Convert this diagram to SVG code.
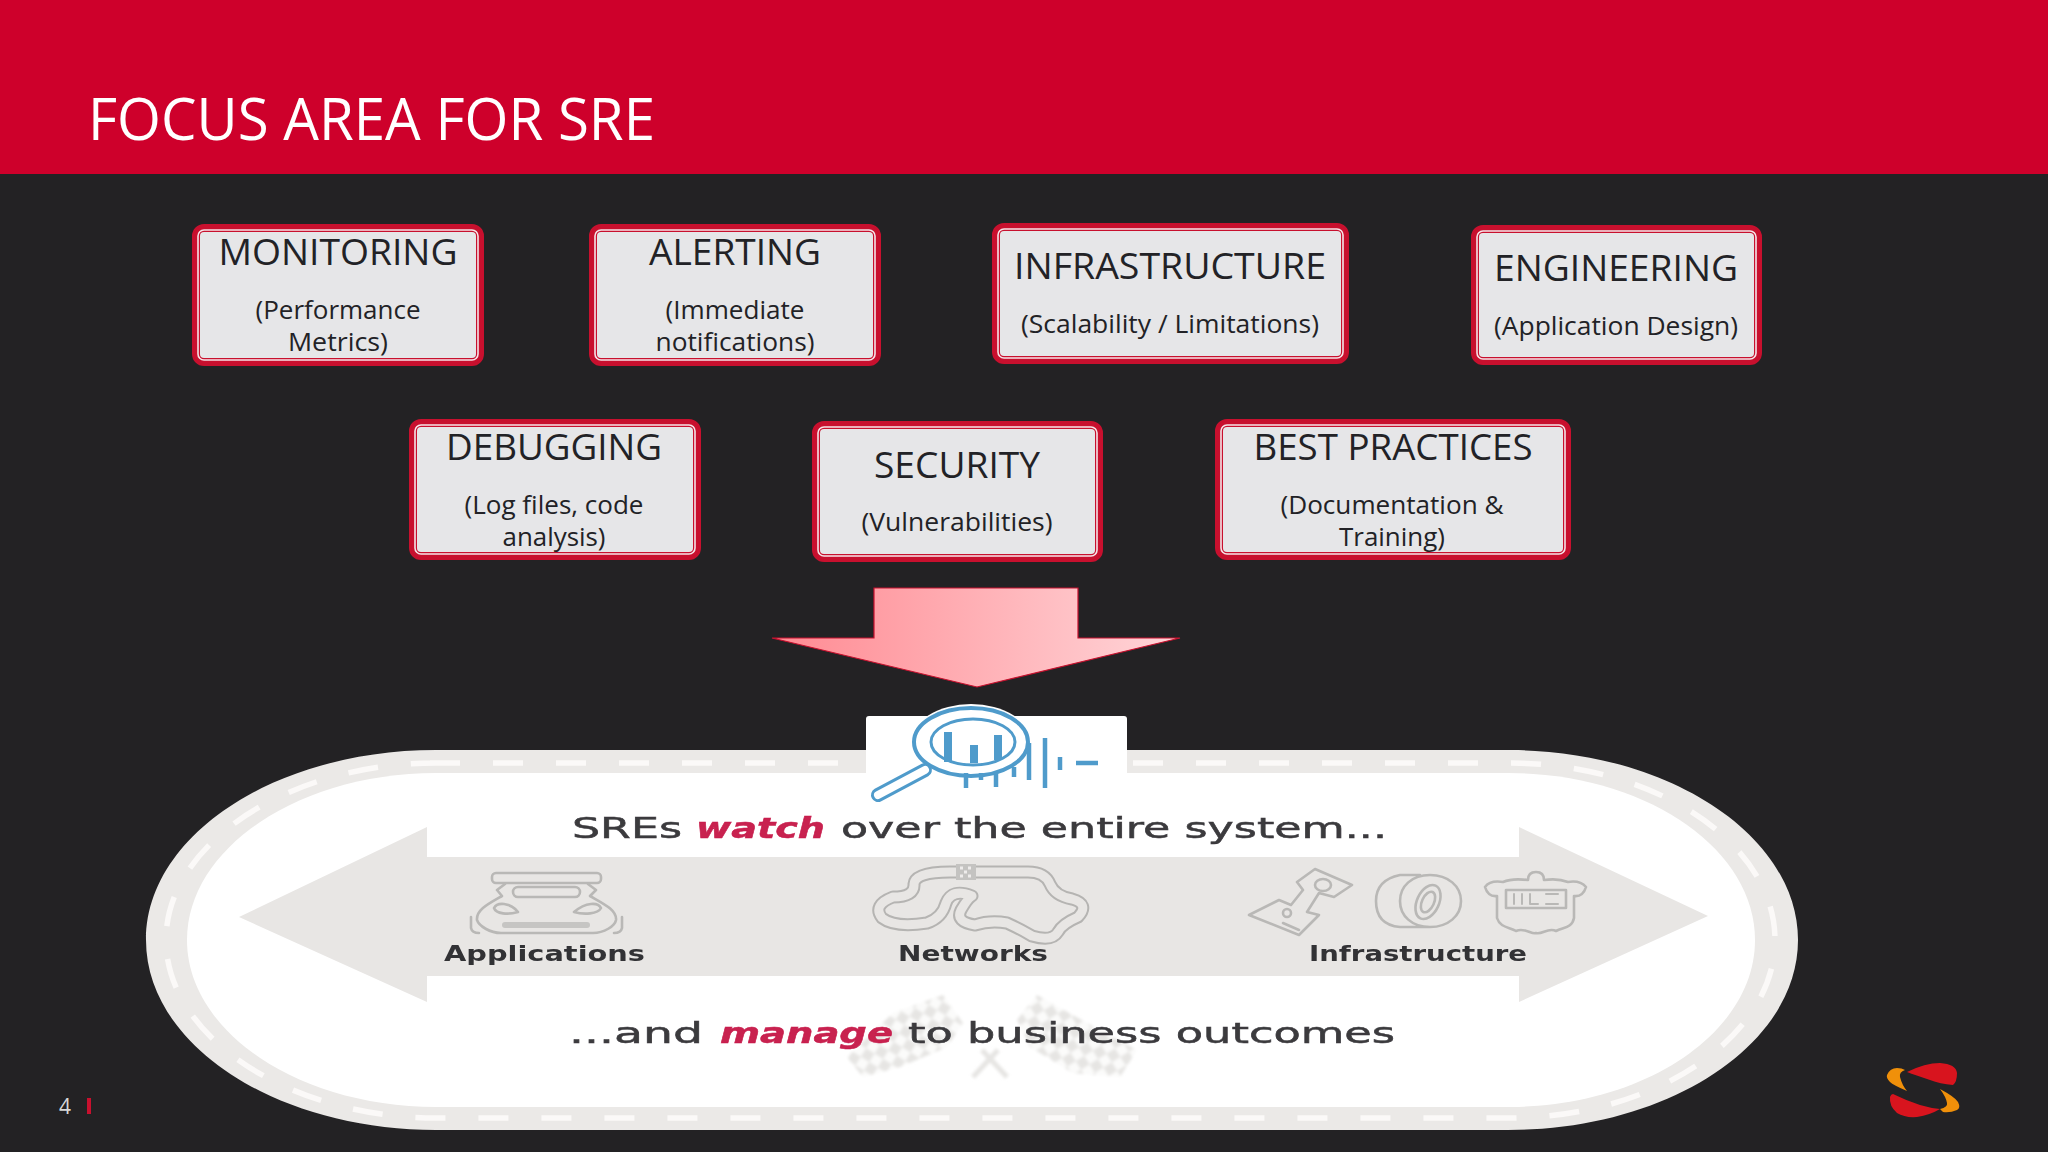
<svg xmlns="http://www.w3.org/2000/svg" width="2048" height="1152" viewBox="0 0 2048 1152">
<style>
.o{fill:#c8102e;stroke:#c8102e;stroke-width:2}.m{fill:#c8102e;stroke:#f6e4e8;stroke-width:1.6}.f{fill:#e6e6e8}
text{font-family:"Open Sans","Noto Sans","Liberation Sans",sans-serif;fill:#222226}
.h{font-size:36px;text-anchor:middle}.s{font-size:26px;text-anchor:middle}
.w{font-family:"DejaVu Sans","Liberation Sans",sans-serif;font-size:28px;fill:#3b3a3e;stroke:#3b3a3e;stroke-width:0.5}
.r{font-weight:bold;font-style:italic;fill:#c8204f;stroke:#c8204f}
.l{font-family:"DejaVu Sans","Liberation Sans",sans-serif;font-size:21px;font-weight:bold;fill:#333336}
.ic{fill:none;stroke:#b9b8b6;stroke-linejoin:round;stroke-linecap:round}
.bl{fill:none;stroke:#4f9bcb}
</style>
<defs>
<linearGradient id="ag" x1="0" x2="1" y1="0" y2="0"><stop offset="0" stop-color="#ff8a92"/><stop offset="1" stop-color="#ffd6d9"/></linearGradient>
<pattern id="chk" width="20" height="20" patternUnits="userSpaceOnUse" patternTransform="rotate(32)"><rect width="20" height="20" fill="#fbfbfa"/><rect width="10" height="10" fill="#e6e5e3"/><rect x="10" y="10" width="10" height="10" fill="#e6e5e3"/></pattern>
<pattern id="chk2" width="20" height="20" patternUnits="userSpaceOnUse" patternTransform="rotate(-32)"><rect width="20" height="20" fill="#fbfbfa"/><rect width="10" height="10" fill="#e6e5e3"/><rect x="10" y="10" width="10" height="10" fill="#e6e5e3"/></pattern>
<filter id="soft" x="-5%" y="-5%" width="110%" height="110%"><feGaussianBlur stdDeviation="0.7"/></filter>
<filter id="soft2" x="-10%" y="-10%" width="120%" height="120%"><feGaussianBlur stdDeviation="1.4"/></filter>
</defs>
<rect width="2048" height="1152" fill="#232224"/>
<rect width="2048" height="174" fill="#ce002b"/>
<text x="88" y="140" font-size="59" textLength="567" lengthAdjust="spacingAndGlyphs" style="fill:#fff">FOCUS AREA FOR SRE</text>

<g id="node-monitoring"><rect class="o" x="193" y="225" width="290" height="140" rx="11"/><rect class="m" x="198" y="230" width="280" height="130" rx="6"/><rect class="f" x="200" y="232" width="276" height="126" rx="4"/>
<text class="h" x="338" y="265" textLength="239" lengthAdjust="spacingAndGlyphs">MONITORING</text>
<text class="s" x="338" y="319" textLength="165" lengthAdjust="spacingAndGlyphs">(Performance</text>
<text class="s" x="338" y="351" textLength="100" lengthAdjust="spacingAndGlyphs">Metrics)</text></g>

<g id="node-alerting"><rect class="o" x="590" y="225" width="290" height="140" rx="11"/><rect class="m" x="595" y="230" width="280" height="130" rx="6"/><rect class="f" x="597" y="232" width="276" height="126" rx="4"/>
<text class="h" x="735" y="265" textLength="172" lengthAdjust="spacingAndGlyphs">ALERTING</text>
<text class="s" x="735" y="319" textLength="139" lengthAdjust="spacingAndGlyphs">(Immediate</text>
<text class="s" x="735" y="351" textLength="159" lengthAdjust="spacingAndGlyphs">notifications)</text></g>

<g id="node-infrastructure"><rect class="o" x="993" y="224" width="355" height="139" rx="11"/><rect class="m" x="998" y="229" width="345" height="129" rx="6"/><rect class="f" x="1000" y="231" width="341" height="125" rx="4"/>
<text class="h" x="1170" y="279" textLength="312" lengthAdjust="spacingAndGlyphs">INFRASTRUCTURE</text>
<text class="s" x="1170" y="333" textLength="298" lengthAdjust="spacingAndGlyphs">(Scalability / Limitations)</text></g>

<g id="node-engineering"><rect class="o" x="1472" y="226" width="289" height="138" rx="11"/><rect class="m" x="1477" y="231" width="279" height="128" rx="6"/><rect class="f" x="1479" y="233" width="275" height="124" rx="4"/>
<text class="h" x="1616" y="281" textLength="244" lengthAdjust="spacingAndGlyphs">ENGINEERING</text>
<text class="s" x="1616" y="335" textLength="244" lengthAdjust="spacingAndGlyphs">(Application Design)</text></g>

<g id="node-debugging"><rect class="o" x="410" y="420" width="290" height="139" rx="11"/><rect class="m" x="415" y="425" width="280" height="129" rx="6"/><rect class="f" x="417" y="427" width="276" height="125" rx="4"/>
<text class="h" x="554" y="460" textLength="216" lengthAdjust="spacingAndGlyphs">DEBUGGING</text>
<text class="s" x="554" y="514" textLength="179" lengthAdjust="spacingAndGlyphs">(Log files, code</text>
<text class="s" x="554" y="546" textLength="103" lengthAdjust="spacingAndGlyphs">analysis)</text></g>

<g id="node-security"><rect class="o" x="813" y="422" width="289" height="139" rx="11"/><rect class="m" x="818" y="427" width="279" height="129" rx="6"/><rect class="f" x="820" y="429" width="275" height="125" rx="4"/>
<text class="h" x="957" y="478" textLength="166" lengthAdjust="spacingAndGlyphs">SECURITY</text>
<text class="s" x="957" y="531" textLength="191" lengthAdjust="spacingAndGlyphs">(Vulnerabilities)</text></g>

<g id="node-best-practices"><rect class="o" x="1216" y="420" width="354" height="139" rx="11"/><rect class="m" x="1221" y="425" width="344" height="129" rx="6"/><rect class="f" x="1223" y="427" width="340" height="125" rx="4"/>
<text class="h" x="1393" y="460" textLength="279" lengthAdjust="spacingAndGlyphs">BEST PRACTICES</text>
<text class="s" x="1392" y="514" textLength="223" lengthAdjust="spacingAndGlyphs">(Documentation &amp;</text>
<text class="s" x="1392" y="546" textLength="106" lengthAdjust="spacingAndGlyphs">Training)</text></g>

<g id="connectors">
<path d="M874 588H1078V638H1180L977 687L772 638H874Z" fill="url(#ag)" stroke="#c8102e" stroke-width="1.2" stroke-linejoin="miter"/>
</g>

<g id="track" filter="url(#soft)">
<rect x="866" y="716" width="261" height="70" rx="3" fill="#fff"/>
<path d="M436 750H866V773H1127V750H1508C1668 750 1798 835 1798 940C1798 1045 1668 1130 1508 1130H436C276 1130 146 1045 146 940C146 835 276 750 436 750Z" fill="#ebe9e7"/>
<path d="M436 773H1508C1645 773 1755 848 1755 940C1755 1032 1645 1107 1508 1107H436C299 1107 187 1032 187 940C187 848 299 773 436 773Z" fill="#fff"/>
<rect x="866" y="740" width="261" height="40" fill="#fff"/>
<path d="M430 763H860M1133 763H1508C1655 763 1775 843 1775 940C1775 1037 1655 1118 1508 1118H436C290 1118 166 1037 166 940C166 843 290 763 436 763" fill="none" stroke="#fbf9f8" stroke-width="5.5" stroke-dasharray="30 33"/>
<path d="M239 917L427 827V857H1519V827L1708 916L1519 1002V976H427V1002Z" fill="#e8e6e4"/>

<g id="magnifier">
<ellipse cx="971" cy="742" rx="60" ry="38" fill="#fff"/>
<ellipse class="bl" cx="971" cy="742" rx="57" ry="34" stroke-width="4"/>
<ellipse class="bl" cx="973" cy="742" rx="42" ry="23" stroke-width="3"/>
<path class="bl" stroke-width="8" d="M948 732V762M974 745V763M998 735V760"/>
<path d="M925 770L878 795" fill="none" stroke="#4f9bcb" stroke-width="14" stroke-linecap="round"/>
<path d="M925 770L878 795" fill="none" stroke="#fff" stroke-width="8" stroke-linecap="round"/>
<path class="bl" stroke-width="4.5" d="M966 773V788M981 773V780M996 773V787M1014 767V777M1029 743V780M1045 738V788M1060 757V770M1076 763H1098"/>
</g>

<g id="flags" filter="url(#soft2)">
<path d="M847 1057L893 1013L943 995L963 1023L947 1047L900 1067L863 1077Z" fill="url(#chk)"/>
<path d="M1017 1020L1037 995L1087 1023L1137 1050L1120 1077L1073 1073L1030 1047Z" fill="url(#chk2)"/>
<path d="M982 1050L1007 1077M998 1050L973 1077" stroke="#e6e5e3" stroke-width="5" fill="none"/>
</g>

<g id="car" class="ic" stroke-width="2.6">
<rect x="492" y="873" width="109" height="10" rx="4"/>
<rect x="513" y="887" width="67" height="10" rx="5"/>
<path d="M505 884L497 890L502 896C488 904 476 910 477 920C479 926 490 933 501 933H593C604 933 615 926 616 920C617 910 604 904 590 896L596 890L588 884"/>
<path d="M494 908C497 902 510 902 518 912C508 915 496 914 494 908ZM601 908C598 902 586 902 574 912C584 915 598 914 601 908Z"/>
<path d="M505 925H587" stroke-width="6" style="stroke:#c6c5c3"/>
<path d="M471 917V928Q472 933 479 933M622 917V928Q621 933 614 933"/>
</g>

<g id="network">
<path d="M950 872H1028Q1045 872 1050 884Q1055 896 1072 899Q1090 904 1078 917Q1062 924 1058 932Q1052 942 1032 936Q1018 928 1007 923Q990 920 975 925Q955 922 961 910Q968 898 972 896Q952 888 946 903Q942 918 927 923Q895 928 882 918Q872 905 893 897Q915 897 914 884Q915 872 950 872Z" fill="none" stroke="#b5b4b2" stroke-width="13" stroke-linejoin="round"/>
<path d="M950 872H1028Q1045 872 1050 884Q1055 896 1072 899Q1090 904 1078 917Q1062 924 1058 932Q1052 942 1032 936Q1018 928 1007 923Q990 920 975 925Q955 922 961 910Q968 898 972 896Q952 888 946 903Q942 918 927 923Q895 928 882 918Q872 905 893 897Q915 897 914 884Q915 872 950 872Z" fill="none" stroke="#e8e6e4" stroke-width="9" stroke-linejoin="round"/>
<rect x="956" y="864" width="20" height="16" fill="#c4c3c1"/>
<path d="M960 868h3M968 868h3M964 872h3M960 876h3M968 876h3" stroke="#eeeceb" stroke-width="3"/>
</g>

<g id="infra-icons" class="ic" stroke-width="2.6">
<path d="M1249 915L1279 900L1291 905L1303 890L1297 882L1315 869L1352 885L1334 897L1319 893L1307 912L1319 915L1299 935Z"/>
<ellipse cx="1323" cy="885" rx="8" ry="6"/><circle cx="1287" cy="913" r="4"/><path d="M1283 923L1299 930"/>
<path d="M1420 875H1400Q1376 880 1376 901Q1376 925 1400 927H1430C1448 927 1461 916 1461 901C1461 886 1448 875 1430 875C1412 875 1400 886 1400 901C1400 916 1412 927 1430 927"/>
<ellipse cx="1428" cy="902" rx="11" ry="18" transform="rotate(25 1428 902)"/>
<ellipse cx="1428" cy="902" rx="6" ry="11" transform="rotate(25 1428 902)"/>
<path d="M1536 872C1530 872 1528 875 1528 880Q1512 878 1503 882Q1490 880 1485 887Q1488 897 1497 896V918C1500 928 1510 927 1516 931C1525 927 1532 935 1536 933C1542 935 1548 927 1556 931C1564 927 1572 928 1574 918V896Q1583 897 1586 887Q1580 880 1568 882Q1558 878 1544 880C1544 875 1542 872 1536 872Z"/>
<rect x="1506" y="890" width="60" height="18"/><path d="M1514 894V904M1522 894V904M1530 894V904H1538M1546 894H1558M1546 904H1558" stroke-width="2"/>
</g>

<text class="w"><tspan x="572" y="838" textLength="110" lengthAdjust="spacingAndGlyphs">SREs</tspan> <tspan class="r" x="696" y="838" textLength="129" lengthAdjust="spacingAndGlyphs">watch</tspan> <tspan x="841" y="838" textLength="546" lengthAdjust="spacingAndGlyphs">over the entire system...</tspan></text>
<text class="w"><tspan x="569" y="1043" textLength="134" lengthAdjust="spacingAndGlyphs">...and</tspan> <tspan class="r" x="720" y="1043" textLength="173" lengthAdjust="spacingAndGlyphs">manage</tspan> <tspan x="908" y="1043" textLength="487" lengthAdjust="spacingAndGlyphs">to business outcomes</tspan></text>
<text class="l" x="444" y="961" textLength="201" lengthAdjust="spacingAndGlyphs">Applications</text>
<text class="l" x="898" y="961" textLength="150" lengthAdjust="spacingAndGlyphs">Networks</text>
<text class="l" x="1309" y="961" textLength="218" lengthAdjust="spacingAndGlyphs">Infrastructure</text>
</g>

<text x="59" y="1114" font-size="21" style="fill:#d8d8d8">4</text>
<rect x="87" y="1098" width="4" height="16" fill="#c8102e"/>

<g id="logo">
<path d="M1907 1072Q1925 1063 1940 1063Q1956 1064 1957 1073Q1957 1082 1953 1085Q1940 1084 1930 1080Q1915 1075 1907 1072Z" fill="#d8141e"/>
<path d="M1887 1075Q1890 1068 1897 1068Q1902 1068 1905 1070Q1899 1072 1900 1077Q1902 1085 1907 1091Q1893 1085 1890 1082Q1886 1078 1887 1075Z" fill="#f0900a"/>
<path d="M1890 1097Q1891 1094 1893 1094Q1905 1100 1920 1105Q1930 1108 1940 1109Q1930 1115 1917 1117Q1905 1118 1897 1113Q1889 1106 1890 1097Z" fill="#d8141e"/>
<path d="M1940 1089Q1955 1097 1958 1102Q1961 1108 1957 1110Q1950 1113 1943 1112L1940 1109Q1948 1107 1947 1103Q1946 1097 1940 1089Z" fill="#f0900a"/>
</g>
</svg>
